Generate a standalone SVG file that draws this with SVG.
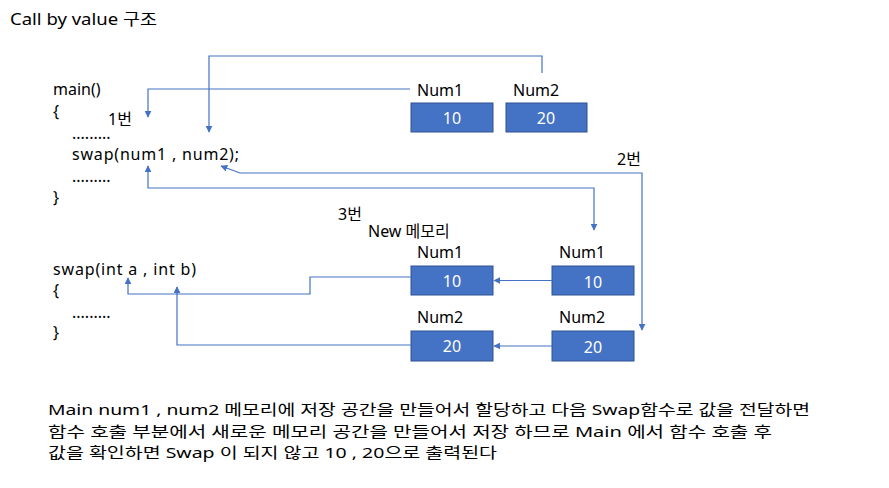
<svg xmlns="http://www.w3.org/2000/svg" width="889" height="488" viewBox="0 0 889 488">
<style>
text{font-family:"Noto Sans","Noto Sans CJK KR",sans-serif;fill:#000}
.t{font-size:16px}
.c{font-size:16px}
.lbl{font-size:16px}
.v{font-size:16px;fill:#fff;text-anchor:middle}
.box{fill:#4472C4;stroke:#2F528F;stroke-width:1}
.ln{fill:none;stroke:#4472C4;stroke-width:1.2}
.b{font-size:15px}
</style>
<defs>
<marker id="ah" viewBox="0 0 10 10" refX="9" refY="5" markerWidth="7" markerHeight="7" orient="auto-start-reverse" markerUnits="userSpaceOnUse">
<path d="M0,0 L10,5 L0,10 z" fill="#4472C4"/>
</marker>
</defs>
<rect width="889" height="488" fill="#fff"/>
<text class="t" x="10" y="25" textLength="147" lengthAdjust="spacingAndGlyphs">Call by value 구조</text>

<g id="main-code">
<text class="c" x="53" y="95">main()</text>
<text class="c" x="53" y="117">{</text>
<text class="c" x="72" y="139">.........</text>
<text class="c" x="72" y="160" textLength="167" lengthAdjust="spacing">swap(num1 , num2);</text>
<text class="c" x="72" y="182">.........</text>
<text class="c" x="53" y="203">}</text>
<text class="lbl" x="108" y="125">1번</text>
</g>

<g id="swap-code">
<text class="c" x="53" y="275" textLength="143" lengthAdjust="spacing">swap(int a , int b)</text>
<text class="c" x="53" y="296">{</text>
<text class="c" x="72" y="318">.........</text>
<text class="c" x="53" y="338">}</text>
</g>

<g id="top-num1">
<text class="lbl" x="417" y="96">Num1</text>
<rect class="box" x="411" y="103" width="82" height="29"/>
<text class="v" x="452" y="124">10</text>
</g>
<g id="top-num2">
<text class="lbl" x="513" y="96">Num2</text>
<rect class="box" x="506" y="103" width="81" height="29"/>
<text class="v" x="546" y="124">20</text>
</g>

<g id="labels">
<text class="lbl" x="617" y="165">2번</text>
<text class="lbl" x="338" y="220">3번</text>
<text class="lbl" x="368" y="237">New 메모리</text>
</g>

<g id="new-num1">
<text class="lbl" x="417" y="258">Num1</text>
<rect class="box" x="411" y="266" width="82" height="29"/>
<text class="v" x="452" y="287">10</text>
</g>
<g id="new-num2">
<text class="lbl" x="417" y="323">Num2</text>
<rect class="box" x="411" y="331" width="82" height="30"/>
<text class="v" x="452" y="352">20</text>
</g>
<g id="src-num1">
<text class="lbl" x="559" y="258">Num1</text>
<rect class="box" x="552" y="266" width="82" height="29"/>
<text class="v" x="593" y="288">10</text>
</g>
<g id="src-num2">
<text class="lbl" x="559" y="323">Num2</text>
<rect class="box" x="552" y="331" width="82" height="30"/>
<text class="v" x="593" y="353">20</text>
</g>

<g id="connectors">
<polyline class="ln" points="542,73 542,56 209,56 209,132" marker-end="url(#ah)"/>
<polyline class="ln" points="410,89 148,89 148,117" marker-end="url(#ah)"/>
<polyline class="ln" points="642,330 642,173 240,173 221,166" marker-start="url(#ah)" marker-end="url(#ah)"/>
<polyline class="ln" points="594,230 594,188 148,188 148,166" marker-start="url(#ah)" marker-end="url(#ah)"/>
<polyline class="ln" points="411,277 310,277 310,294 128,294 128,278" marker-end="url(#ah)"/>
<polyline class="ln" points="411,345 177,345 177,287" marker-end="url(#ah)"/>
<line class="ln" x1="552" y1="280.5" x2="494" y2="280.5" marker-end="url(#ah)"/>
<line class="ln" x1="552" y1="346" x2="494" y2="346" marker-end="url(#ah)"/>
</g>

<g id="description">
<text class="b" x="48" y="415" textLength="762" lengthAdjust="spacingAndGlyphs">Main num1 , num2 메모리에 저장 공간을 만들어서 할당하고 다음 Swap함수로 값을 전달하면</text>
<text class="b" x="48" y="437" textLength="724" lengthAdjust="spacingAndGlyphs">함수 호출 부분에서 새로운 메모리 공간을 만들어서 저장 하므로 Main 에서 함수 호출 후</text>
<text class="b" x="48" y="458" textLength="449" lengthAdjust="spacingAndGlyphs">값을 확인하면 Swap 이 되지 않고 10 , 20으로 출력된다</text>
</g>
</svg>
